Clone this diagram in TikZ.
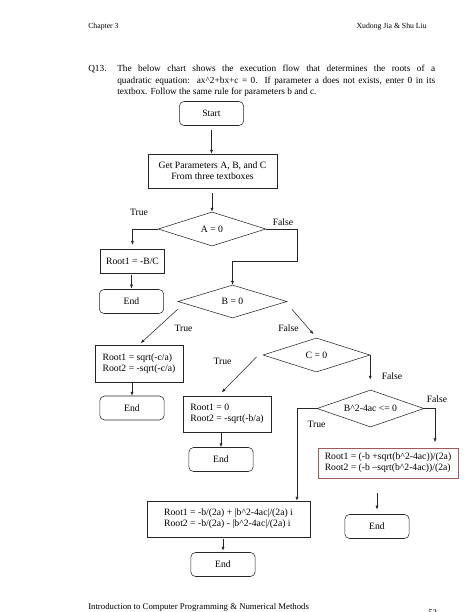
\documentclass[tikz,border=0pt]{standalone}
\usepackage{fontspec}
\setmainfont{Liberation Serif}
\usetikzlibrary{shapes.geometric,arrows.meta}
\definecolor{trait}{HTML}{262626}
\definecolor{rouge}{HTML}{A05A5A}
\begin{document}
\begin{tikzpicture}[x=1.291pt, y=-1.291pt, line width=0.7pt,
    every node/.style={font=\fontsize{12.5}{14}\selectfont},
    terminal/.style={draw=trait, rounded corners=6pt, minimum width=83pt, minimum height=31pt, inner sep=2pt},
    boite/.style={draw=trait, align=left, inner sep=3pt},
    losange/.style={draw=trait, diamond, aspect=3.2, inner sep=1pt, minimum width=139pt, minimum height=44pt},
    fleche/.style={draw=trait, -{Latex[length=5pt,width=4pt]}},
    etiq/.style={inner sep=0pt}]

            \useasboundingbox (0,0) rectangle (474,612);

            % En-tête et pied de page
            \node[anchor=base west, inner sep=0pt, font=\fontsize{10}{12}\selectfont] (chap) at (88,28) {Chapter 3};
            \node[anchor=base east, inner sep=0pt, font=\fontsize{10}{12}\selectfont] (auteurs) at (427,28) {Xudong Jia \& Shu Liu};
            \node[anchor=base west, inner sep=0pt, font=\fontsize{11.3}{13}\selectfont] (pied) at (88,609) {Introduction to Computer Programming \& Numerical Methods};
            \node[anchor=base west, inner sep=0pt, font=\fontsize{11.3}{13}\selectfont] (page) at (428,615.5) {52};

            % Énoncé de la question
            \node[anchor=base west, inner sep=0pt, font=\fontsize{12}{14.85}\selectfont] (num) at (88,71.5) {Q13.};
            \node[anchor=base west, inner sep=0pt, text width=410.5pt, align=justify, font=\fontsize{12}{14.85}\selectfont] (enonce) at (117,71.5)
                {The below chart shows the execution flow that determines the roots of a\linebreak
                 quadratic equation:\ \ ax\textasciicircum{}2+bx+c = 0.\ \ If parameter a does not exists, enter 0 in its\linebreak
                 textbox. Follow the same rule for parameters b and c.};

            % Boîtes et losanges
            \node[terminal] (debut) at (211.5,113.5) {Start};
            \node[boite, align=center, minimum width=166.5pt, minimum height=44pt] (lire) at (212.5,171) {Get Parameters A, B, and C\\From three textboxes};
            \node[losange] (azero) at (212,229) {A = 0};
            \node[boite, minimum width=82.6pt, minimum height=31pt] (rbc) at (132.5,261) {Root1 = -B/C};
            \node[terminal] (fin1) at (131.5,301.5) {End};
            \node[losange, minimum width=140.7pt, minimum height=42.6pt] (bzero) at (232.5,301.5) {B = 0};
            \node[boite, minimum width=113.6pt, minimum height=47.8pt] (rsqrt) at (139,363.5) {Root1 = sqrt(-c/a)\\Root2 = -sqrt(-c/a)};
            \node[terminal] (fin2) at (132,408) {End};
            \node[losange, minimum width=138pt] (czero) at (316.5,355) {C = 0};
            \node[boite, minimum width=113.6pt, minimum height=46.5pt] (rzero) at (227,414) {Root1 = 0\\Root2 = -sqrt(-b/a)};
            \node[terminal] (fin3) at (221,459.5) {End};
            \node[losange, minimum width=138pt, minimum height=47.8pt] (delta) at (370.5,408.5) {B\textasciicircum{}2-4ac <= 0};
            \node[boite, draw=rouge, minimum width=180.7pt, minimum height=38.7pt] (rreel) at (388,463)
                {Root1 = (-b +sqrt(b\textasciicircum{}2-4ac))/(2a)\\Root2 = (-b –sqrt(b\textasciicircum{}2-4ac))/(2a)};
            \node[terminal] (fin4) at (377,526.5) {End};
            \node[boite, minimum width=210.4pt, minimum height=46.5pt] (rcplx) at (228.5,519)
                {Root1 = -b/(2a) + |b\textasciicircum{}2-4ac|/(2a) i\\Root2 = -b/(2a) - |b\textasciicircum{}2-4ac|/(2a) i};
            \node[terminal] (fin5) at (223,564.5) {End};

            % Étiquettes des branches
            \node[etiq] (vA) at (139,212) {True};
            \node[etiq] (fA) at (283,222) {False};
            \node[etiq] (vB) at (183.5,328) {True};
            \node[etiq] (fB) at (288.5,328) {False};
            \node[etiq] (vC) at (222.5,361) {True};
            \node[etiq] (fC) at (392,376) {False};
            \node[etiq] (fD) at (437,399) {False};
            \node[etiq] (vD) at (316.5,424) {True};

            % Flèches
            \draw[fleche, shorten <=6pt] (debut.south) -- (debut.south |- lire.north);
            \draw[fleche, shorten <=6pt] (lire.south -| azero.north) -- (azero.north);
            \draw[fleche, shorten >=5pt] (azero.west) -| (rbc.north);
            \draw[fleche] (azero.east) -- ++(31,0) -- ++(0,32) -| (bzero.north);
            \draw[fleche, shorten <=2pt, shorten >=1pt] (rbc.south -| fin1.north) -- (fin1.north);
            \draw[fleche, shorten >=3pt] ([yshift=-10pt]bzero.west) -- (rsqrt.north);
            \draw[fleche, shorten >=6pt] ([xshift=6pt, yshift=-10pt]bzero.east) -- (czero.north);
            \draw[fleche] (rsqrt.south -| fin2.north) -- (fin2.north);
            \draw[fleche, shorten >=6pt] ([xshift=-8pt, yshift=-2.5pt]czero.west) -- ([xshift=-11pt]rzero.north);
            \draw[fleche, shorten >=13pt] (czero.east) -- (czero.east |- delta.north);
            \draw[fleche] (rzero.south -| fin3.north) -- (fin3.north);
            \draw[fleche, shorten >=7pt] (delta.east) -| ([xshift=60.7pt]rreel.north);
            \draw[fleche] (delta.west) -| ([xshift=88.4pt]rcplx.north);
            \draw[fleche, shorten <=19pt, shorten >=6pt] (rreel.south -| fin4.north) -- (fin4.north);
            \draw[fleche, shorten <=2pt, shorten >=2pt] (rcplx.south -| fin5.north) -- (fin5.north);

\end{tikzpicture}
\end{document}
